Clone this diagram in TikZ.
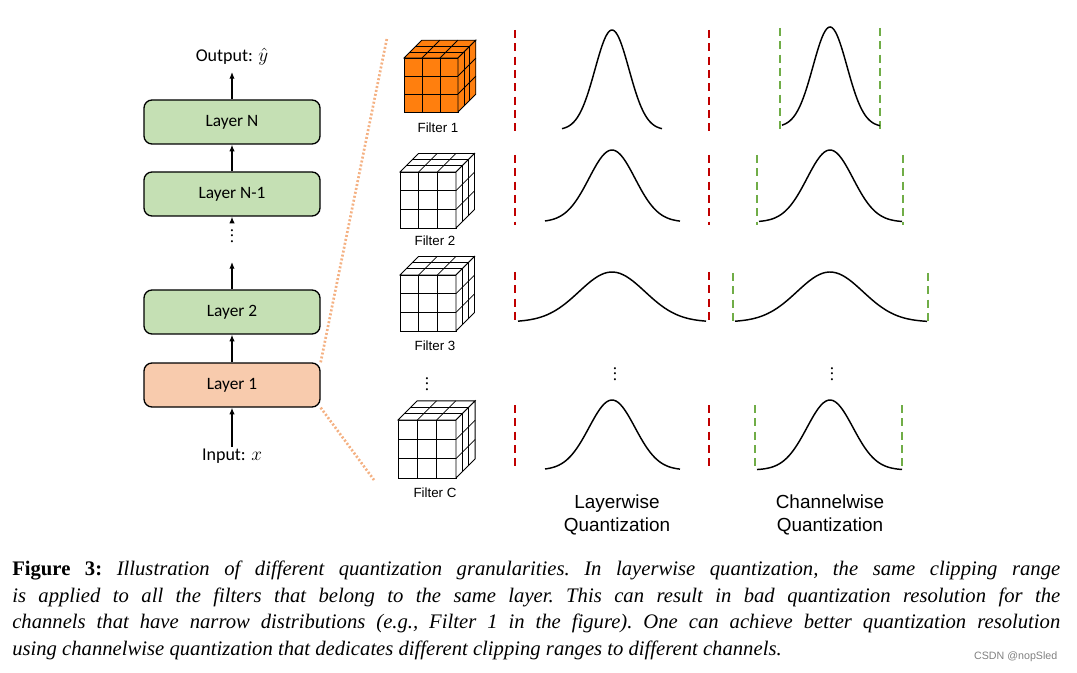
\documentclass[tikz,border=0pt]{standalone}
\usepackage{fontspec}
\setmainfont{Liberation Serif}
\newfontfamily\sansf{Carlito}
\newfontfamily\arialf{Liberation Sans}
\usetikzlibrary{arrows.meta}
\definecolor{lgreen}{HTML}{C5E0B4}
\definecolor{lorange}{HTML}{F8CBAD}
\definecolor{cubeor}{HTML}{FF7F0E}
\definecolor{dred}{HTML}{C00000}
\definecolor{dgreen}{HTML}{70AD47}
\definecolor{dotor}{HTML}{F4B183}
\tikzset{
 layerbox/.style={draw=black, line width=1pt, rounded corners=6pt, minimum width=132pt, minimum height=33pt, font=\sansf\fontsize{13}{15}\selectfont},
 arr/.style={-{Latex[length=5pt,width=4pt]}, line width=0.9pt},
 lab/.style={font=\arialf\fontsize{10}{12}\selectfont},
 big/.style={font=\arialf\fontsize{14.2}{17}\selectfont, align=center},
 redd/.style={dred, line width=1.4pt, dash pattern=on 6pt off 4pt},
 grnd/.style={dgreen, line width=1.4pt, dash pattern=on 6pt off 4pt},
 gauss/.style={line width=1.1pt, smooth, samples=60},
}
% \filtercube{x}{y of front bottom-left}{size}{fill}
\newcommand\filtercube[4]{%
 \begin{scope}[shift={(#1,#2)}]
  \pgfmathsetmacro\s{#3}\pgfmathsetmacro\c{#3/3}\pgfmathsetmacro\d{#3*0.33}
  \filldraw[fill=#4, line width=0.6pt] (0,0) rectangle (\s,-\s);
  \filldraw[fill=#4, line width=0.6pt] (0,-\s) -- (\d,-\s-\d) -- (\s+\d,-\s-\d) -- (\s,-\s) -- cycle;
  \filldraw[fill=#4, line width=0.6pt] (\s,0) -- (\s+\d,-\d) -- (\s+\d,-\s-\d) -- (\s,-\s) -- cycle;
  \foreach \i in {1,2}{
   \draw[line width=0.6pt] (\i*\c,0) -- (\i*\c,-\s);
   \draw[line width=0.6pt] (0,-\i*\c) -- (\s,-\i*\c);
   \draw[line width=0.6pt] (\i*\c,-\s) -- (\i*\c+\d,-\s-\d);
   \draw[line width=0.6pt] (\i*\d/3,-\s-\i*\d/3) -- (\s+\i*\d/3,-\s-\i*\d/3);
   \draw[line width=0.6pt] (\s+\i*\d/3,-\i*\d/3) -- (\s+\i*\d/3,-\s-\i*\d/3);
   \draw[line width=0.6pt] (\s,-\i*\c) -- (\s+\d,-\i*\c-\d);
  }
 \end{scope}}
\begin{document}
\begin{tikzpicture}[x=0.75pt,y=-0.75pt]
\useasboundingbox (0,0) rectangle (1077,673);
% network
\node[layerbox, fill=lgreen] (ln) at (232,122) {Layer N};
\node[layerbox, fill=lgreen] (ln1) at (232,194) {Layer N-1};
\node[layerbox, fill=lgreen] (l2) at (232,312) {Layer 2};
\node[layerbox, fill=lorange] (l1) at (232,385) {Layer 1};
\node[font=\sansf\fontsize{13.5}{15}\selectfont, inner sep=1pt] (out) at (232,57) {Output: $\hat{y}$};
\node[font=\sansf\fontsize{13.5}{15}\selectfont, inner sep=1pt] (in) at (232,456) {Input: $x$};
\node[font=\fontsize{13}{15}\selectfont, inner sep=1pt] (vd) at (232,232) {$\vdots$};
\coordinate (c1) at (232,262);
\draw[arr] (ln.north) -- (232,72);
\draw[arr] (ln1.north) -- (ln.south);
\draw[arr] (vd.north) -- (ln1.south);
\draw[arr] (l2.north) -- (c1);
\draw[arr] (l1.north) -- (l2.south);
\draw[arr] (in.north) -- (l1.south);
\coordinate (zt) at (387,38);
\coordinate (zb) at (374,480);
\draw[dotor, line width=2pt, dash pattern=on 1.5pt off 1.5pt] (l1.north east) -- (zt);
\draw[dotor, line width=2pt, dash pattern=on 1.5pt off 1.5pt] (l1.south east) -- (zb);
% cubes
\filtercube{404}{112}{54}{cubeor}
\filtercube{400}{228}{56}{white}
\filtercube{400}{331}{56}{white}
\filtercube{398}{478}{58}{white}
\node[lab] (f1) at (438,128) {Filter 1};
\node[lab] (f2) at (435,241) {Filter 2};
\node[lab] (f3) at (435,346) {Filter 3};
\node[lab] (fc) at (435,493) {Filter C};
\node[font=\fontsize{13}{15}\selectfont, inner sep=1pt] (fd) at (427,380) {$\vdots$};
% layerwise
\draw[redd] (515,30) -- (515,132); \draw[redd] (709,30) -- (709,132);
\draw[redd] (515,155) -- (515,225); \draw[redd] (709,155) -- (709,225);
\draw[redd] (515,272) -- (515,325); \draw[redd] (709,272) -- (709,325);
\draw[redd] (515,405) -- (515,470); \draw[redd] (709,405) -- (709,470);
\draw[gauss] plot[domain=562:662] (\x,{130-100*exp(-((\x-612)/17)^2/2)});
\draw[gauss] plot[domain=545:680] (\x,{222-72*exp(-((\x-612)/23)^2/2)});
\draw[gauss] plot[domain=518:706] (\x,{322-50*exp(-((\x-612)/33)^2/2)});
\draw[gauss] plot[domain=545:680] (\x,{470-70*exp(-((\x-612)/23)^2/2)});
% channelwise
\draw[grnd] (780,28) -- (780,132); \draw[grnd] (880,28) -- (880,132);
\draw[grnd] (757,155) -- (757,225); \draw[grnd] (903,155) -- (903,225);
\draw[grnd] (733,273) -- (733,325); \draw[grnd] (928,273) -- (928,325);
\draw[grnd] (755,405) -- (755,470); \draw[grnd] (902,405) -- (902,470);
\draw[gauss] plot[domain=782:880] (\x,{127-100*exp(-((\x-830)/17)^2/2)});
\draw[gauss] plot[domain=759:902] (\x,{222-72*exp(-((\x-830)/23)^2/2)});
\draw[gauss] plot[domain=735:927] (\x,{322-50*exp(-((\x-830)/33)^2/2)});
\draw[gauss] plot[domain=757:902] (\x,{470-70*exp(-((\x-830)/23)^2/2)});
\node[font=\fontsize{13}{15}\selectfont, inner sep=1pt] (d1) at (615,370) {$\vdots$};
\node[font=\fontsize{13}{15}\selectfont, inner sep=1pt] (d2) at (832,370) {$\vdots$};
\node[big] (lq) at (617,515) {Layerwise\\Quantization};
\node[big] (cq) at (830,515) {Channelwise\\Quantization};
% caption
\node[anchor=north west, inner sep=0pt, text width=786pt, align=justify, font=\frenchspacing\fontsize{15.5}{19.8}\selectfont] (cap) at (12,561)
{\textbf{Figure 3:} \textit{Illustration of different quantization granularities. In layerwise quantization, the same clipping range\linebreak
is applied to all the filters that belong to the same layer. This can result in bad quantization resolution for the\linebreak
channels that have narrow distributions (e.g., Filter 1 in the figure). One can achieve better quantization resolution\linebreak
using channelwise quantization that dedicates different clipping ranges to different channels.}};
\node[anchor=east, font=\arialf\fontsize{8}{10}\selectfont, text=gray] (wm) at (1062,657) {CSDN @nopSled};
\end{tikzpicture}
\end{document}
